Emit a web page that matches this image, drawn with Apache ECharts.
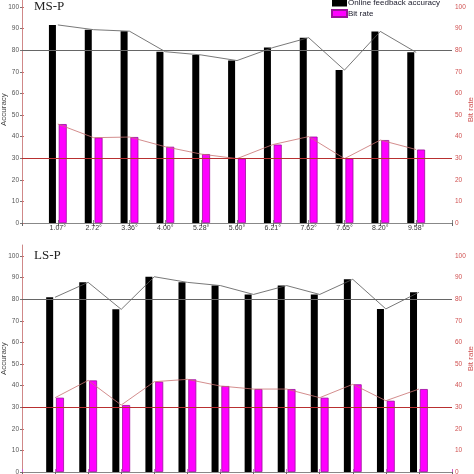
<!DOCTYPE html>
<html>
<head>
<meta charset="utf-8">
<script src="https://cdn.jsdelivr.net/npm/echarts@6/dist/echarts.min.js"></script>
<style>
  html, body { margin: 0; padding: 0; background: #fff; }
  #chart { width: 474px; height: 474px; }
</style>
</head>
<body>
<div id="chart"></div>
<script>
  // top panel (MS-P)
  var msLabels = ['1.07°', '2.72°', '3.36°', '4.00°', '5.28°', '5.60°', '6.21°', '7.62°', '7.65°', '8.20°', '9.58°'];
  var msAccuracy = [91.7, 89.5, 88.8, 79.3, 77.8, 75.2, 81.2, 85.8, 70.8, 88.7, 79.0];
  var msBitRate = [45.8, 39.5, 39.8, 35.3, 31.9, 29.8, 36.3, 40.0, 29.8, 38.4, 34.0];

  // bottom panel (LS-P)
  var lsAccuracy = [80.9, 87.8, 75.3, 90.4, 87.8, 86.3, 82.2, 86.3, 82.2, 89.2, 75.5, 83.2];
  var lsBitRate = [34.4, 42.4, 31.0, 41.8, 42.9, 39.8, 38.4, 38.4, 34.4, 40.6, 33.0, 38.4];

  var accThreshold = 80;
  var bitThreshold = 30;

  var chart = echarts.init(document.getElementById('chart'), null, { renderer: 'canvas' });

  var font = 'Liberation Sans';
  var pxPerUnit = 2.16;
  var yMax = 105;

  function toPoints(arr) {
    return arr.map(function (v, i) { return [i + 1, v]; });
  }

  function xAxes(gridIndex, n, labels) {
    return [
      {
        type: 'value', gridIndex: gridIndex, position: 'bottom',
        min: 0, max: n + 1, interval: 1,
        axisLine: { show: true, lineStyle: { color: '#888', width: 1 } },
        axisTick: { show: true, inside: true, length: 3, lineStyle: { color: labels ? '#888' : '#d060d0' } },
        axisLabel: {
          show: !!labels, fontSize: 7, color: '#333', fontFamily: font, margin: 2,
          formatter: function (v) { return labels && labels[v - 1] ? labels[v - 1] : ''; }
        },
        splitLine: { show: false }
      },
      {
        type: 'value', gridIndex: gridIndex, position: 'top',
        min: 0, max: n + 1, interval: 1,
        axisLine: { show: true, lineStyle: { color: '#888', width: 1 } },
        axisTick: { show: true, inside: true, length: 3, lineStyle: { color: '#666' } },
        axisLabel: { show: false },
        splitLine: { show: false }
      }
    ];
  }

  function yAxes(gridIndex) {
    return [
      {
        type: 'value', gridIndex: gridIndex, position: 'left',
        min: 0, max: yMax, interval: 10,
        name: 'Accuracy', nameLocation: 'middle', nameGap: 14, nameMoveOverlap: false,
        nameTextStyle: { fontSize: 8, color: '#444', fontFamily: font },
        axisLine: { show: true, lineStyle: { color: '#888', width: 1 } },
        axisTick: { show: true, length: 2, lineStyle: { color: '#777' } },
        axisLabel: { fontSize: 6.5, color: '#555', fontFamily: font, margin: 3, showMaxLabel: false },
        splitLine: { show: false }
      },
      {
        type: 'value', gridIndex: gridIndex, position: 'right',
        min: 0, max: yMax, interval: 10,
        name: 'Bit rate', nameLocation: 'middle', nameGap: 15, nameRotate: 90, nameMoveOverlap: false,
        nameTextStyle: { fontSize: 8, color: '#d05050', fontFamily: font },
        axisLine: { show: true, lineStyle: { color: '#d08888', width: 1 } },
        axisTick: { show: true, length: 2, lineStyle: { color: '#d07070' } },
        axisLabel: { fontSize: 6.5, color: '#d05050', fontFamily: font, margin: 3, showMaxLabel: false },
        splitLine: { show: false }
      }
    ];
  }

  function panelSeries(gridIndex, acc, bit) {
    var xi = gridIndex * 2;
    var yi = gridIndex * 2;
    return [
      {
        name: 'Online feedback accuracy', type: 'bar',
        xAxisIndex: xi, yAxisIndex: yi,
        barWidth: 7, barGap: '40%',
        itemStyle: { color: '#000' },
        data: toPoints(acc), z: 2
      },
      {
        name: 'Bit rate', type: 'bar',
        xAxisIndex: xi, yAxisIndex: yi + 1,
        barWidth: 8, barGap: '40%',
        itemStyle: { color: '#ff00ff', borderColor: '#9a109a', borderWidth: 0.8 },
        data: toPoints(bit), z: 2
      },
      {
        name: 'acc-line', type: 'line',
        xAxisIndex: xi, yAxisIndex: yi,
        symbol: 'none', silent: true,
        lineStyle: { color: '#555', width: 0.8 },
        data: toPoints(acc), z: 3,
        markLine: {
          symbol: 'none', silent: true, label: { show: false },
          lineStyle: { color: '#666', type: 'solid', width: 1 },
          data: [{ yAxis: accThreshold }]
        }
      },
      {
        name: 'bit-line', type: 'line',
        xAxisIndex: xi, yAxisIndex: yi + 1,
        symbol: 'none', silent: true,
        lineStyle: { color: '#c87070', width: 0.8 },
        data: toPoints(bit), z: 3,
        markLine: {
          symbol: 'none', silent: true, label: { show: false },
          lineStyle: { color: '#b83030', type: 'solid', width: 1 },
          data: [{ yAxis: bitThreshold }]
        }
      }
    ];
  }

  var h = yMax * pxPerUnit;

  var option = {
    animation: false,
    backgroundColor: '#fff',
    title: [
      { text: 'MS-P', left: 34, top: 0, padding: 0,
        textStyle: { fontFamily: 'Liberation Serif', fontSize: 13, fontWeight: 'normal', color: '#222' } },
      { text: 'LS-P', left: 34, top: 249, padding: 0,
        textStyle: { fontFamily: 'Liberation Serif', fontSize: 13, fontWeight: 'normal', color: '#222' } }
    ],
    legend: {
      data: ['Online feedback accuracy', 'Bit rate'],
      orient: 'vertical',
      left: 331, top: -1,
      padding: [0, 3, 1, 0],
      itemWidth: 15, itemHeight: 7, itemGap: 2,
      icon: 'rect',
      backgroundColor: '#fff',
      textStyle: { fontSize: 8, color: '#1a1a2a', fontFamily: font, lineHeight: 8, padding: [0, 0, 0, -4] }
    },
    grid: [
      { left: 22, right: 22, top: 223 - h, height: h, outerBoundsMode: 'none', containLabel: false },
      { left: 22, right: 22, top: 472 - h, height: h, outerBoundsMode: 'none', containLabel: false }
    ],
    xAxis: xAxes(0, msAccuracy.length, msLabels).concat(xAxes(1, lsAccuracy.length, null)),
    yAxis: yAxes(0).concat(yAxes(1)),
    series: panelSeries(0, msAccuracy, msBitRate).concat(panelSeries(1, lsAccuracy, lsBitRate))
  };

  chart.setOption(option);
</script>
</body>
</html>
